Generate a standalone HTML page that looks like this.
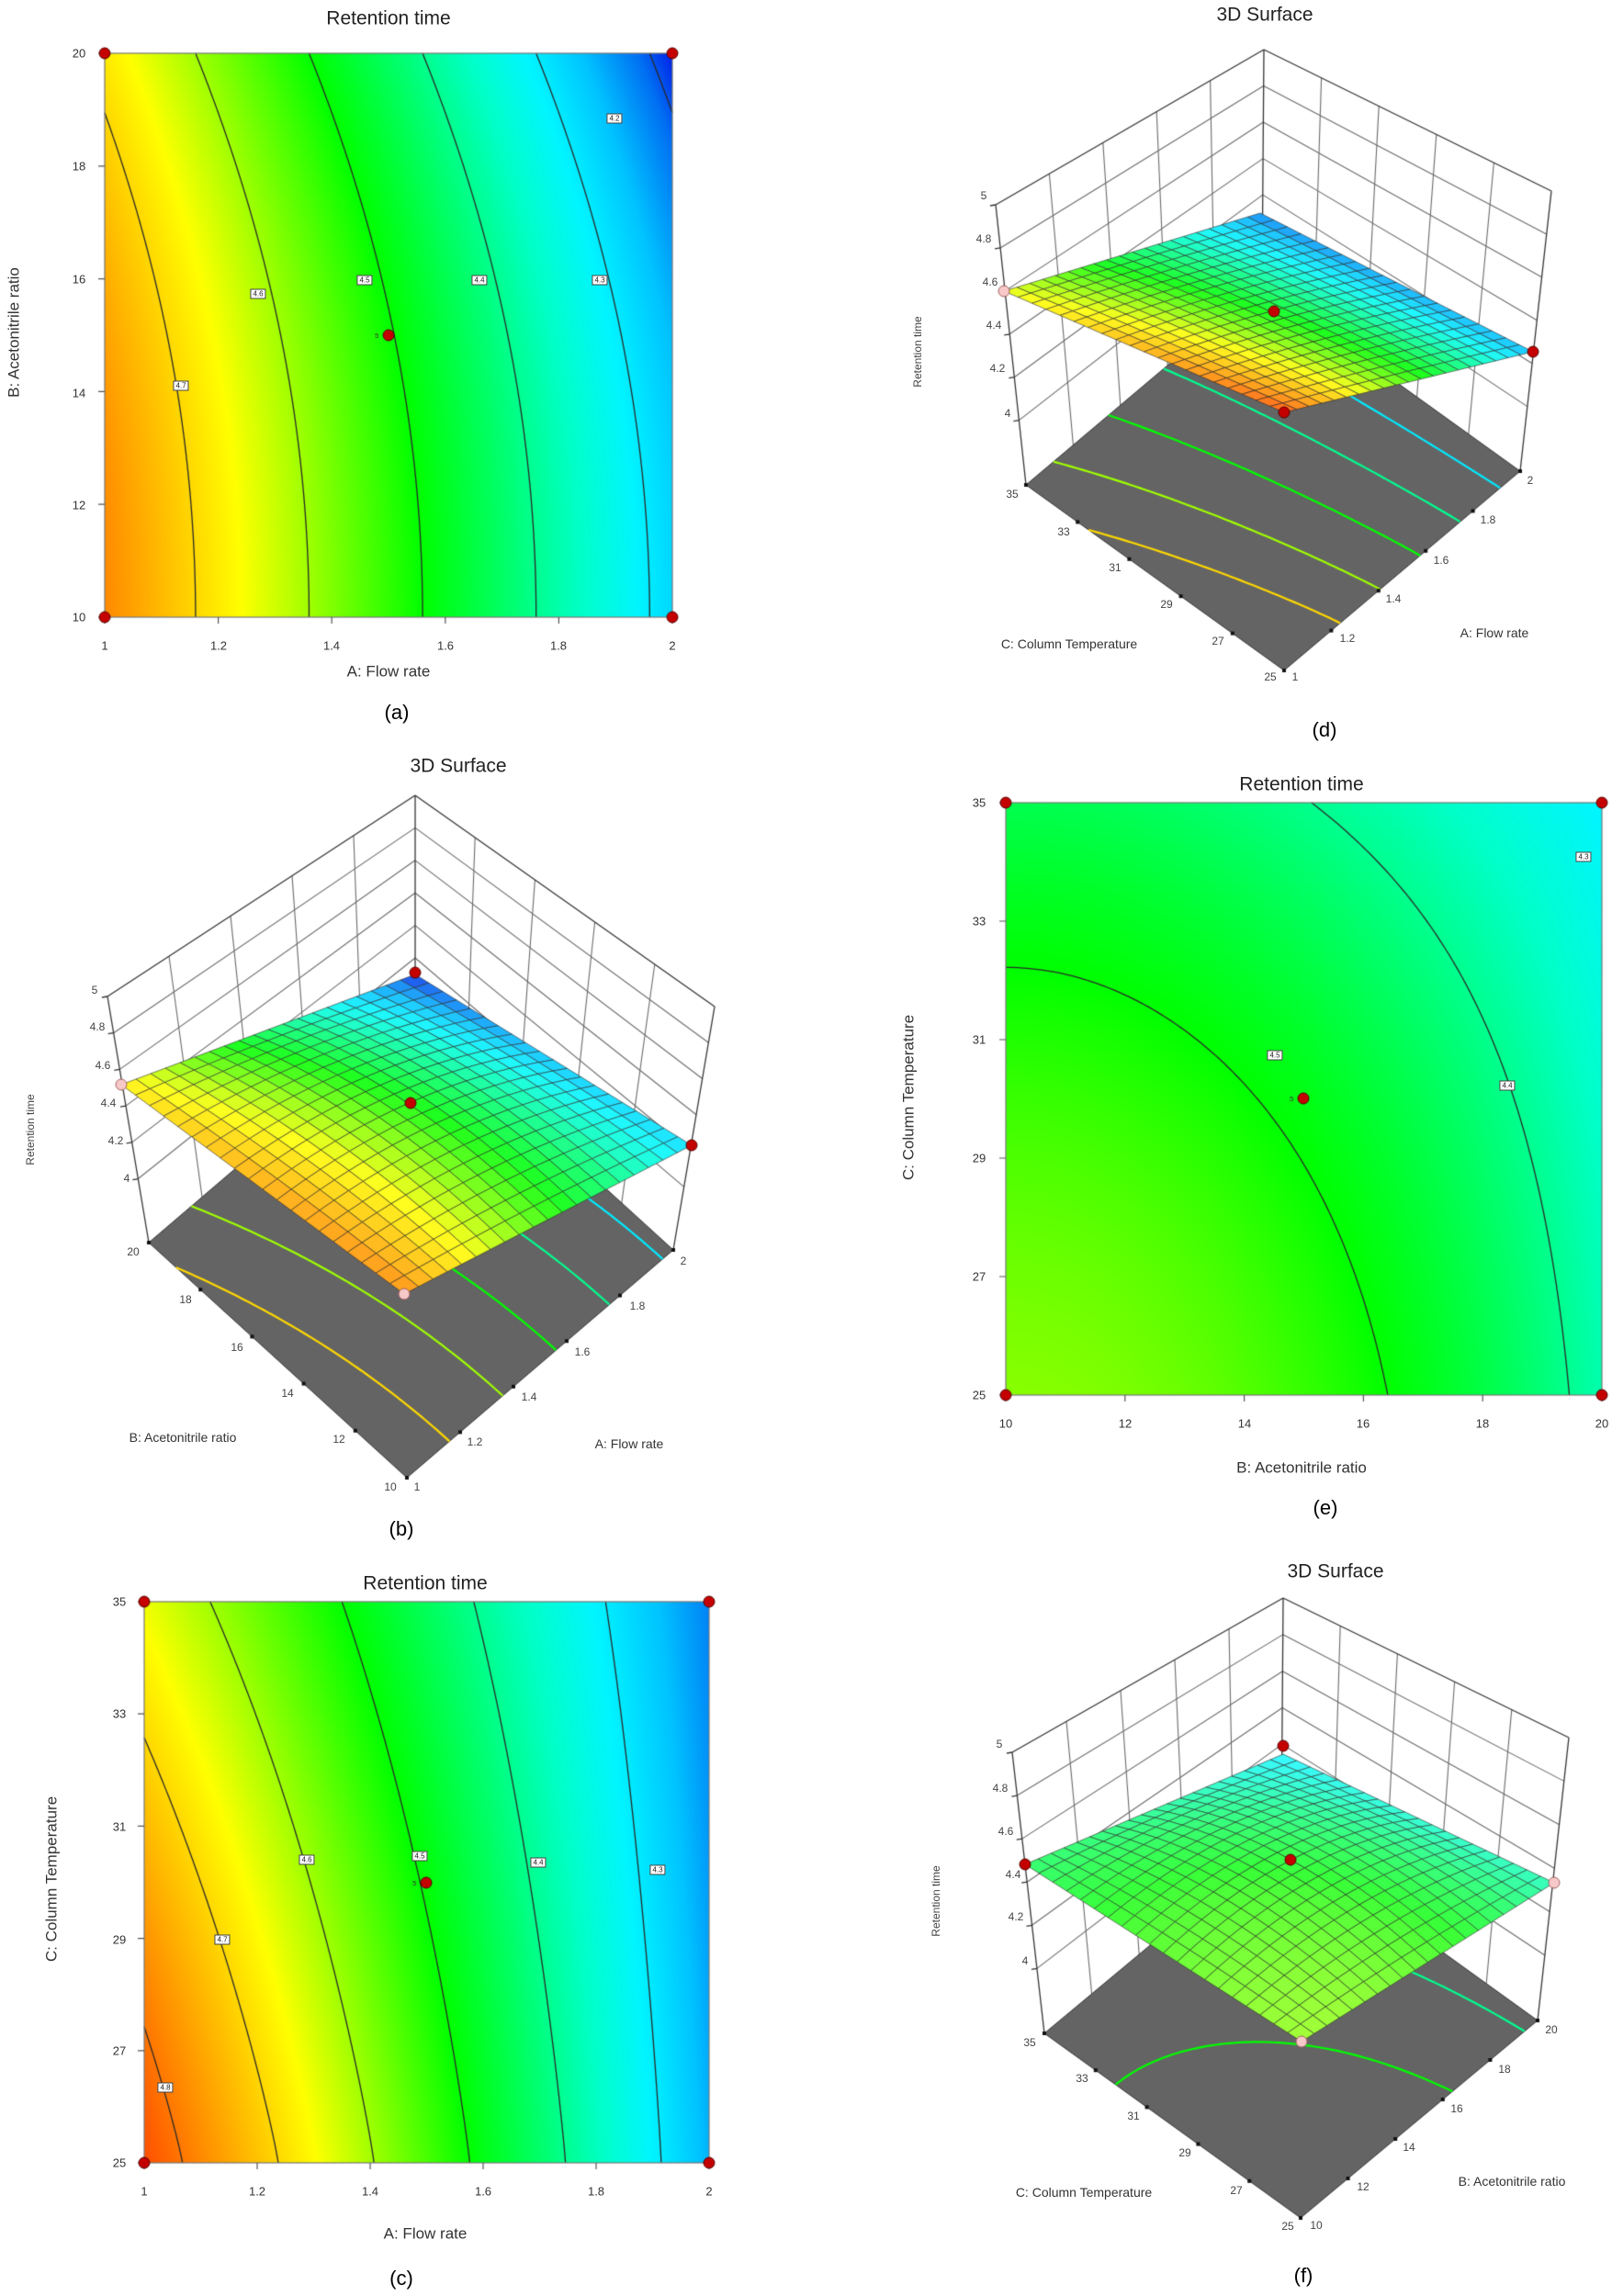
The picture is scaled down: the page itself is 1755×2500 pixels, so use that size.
<!DOCTYPE html>
<html><head><meta charset="utf-8">
<style>
html,body{margin:0;padding:0;background:#fff;}
#wrap{position:relative;width:1755px;height:2500px;overflow:hidden;background:#fff;font-family:"Liberation Sans",sans-serif;}
canvas{position:absolute;left:0;top:0;}
.t{position:absolute;transform:translate(-50%,-50%);white-space:nowrap;color:#333;line-height:1;}
.tk{font-size:13px;}
.tk3{font-size:12px;color:#444;}
.ti{font-size:21px;color:#222;}
.ax{font-size:17px;color:#333;}
.ax3{font-size:14px;color:#333;}
.lb{font-size:22px;color:#000;}
.rot{transform:translate(-50%,-50%) rotate(-90deg);}
.cl{position:absolute;transform:translate(-50%,-50%);background:#fff;border:1px solid #444;font-size:8px;padding:0 2px;line-height:9px;color:#222;}
</style></head><body>
<div id="wrap">
<canvas id="c" width="1755" height="2500"></canvas>

<!-- (a) -->
<div class="t ti" style="left:423px;top:20px">Retention time</div>
<div class="t tk" style="left:86px;top:58px">20</div>
<div class="t tk" style="left:86px;top:181px">18</div>
<div class="t tk" style="left:86px;top:304px">16</div>
<div class="t tk" style="left:86px;top:428px">14</div>
<div class="t tk" style="left:86px;top:550px">12</div>
<div class="t tk" style="left:86px;top:672px">10</div>
<div class="t tk" style="left:114px;top:703px">1</div>
<div class="t tk" style="left:238px;top:703px">1.2</div>
<div class="t tk" style="left:361px;top:703px">1.4</div>
<div class="t tk" style="left:485px;top:703px">1.6</div>
<div class="t tk" style="left:608px;top:703px">1.8</div>
<div class="t tk" style="left:732px;top:703px">2</div>
<div class="t ax" style="left:423px;top:731px">A: Flow rate</div>
<div class="t ax rot" style="left:15px;top:362px">B: Acetonitrile ratio</div>
<div class="t lb" style="left:432px;top:776px">(a)</div>
<div class="cl" style="left:669px;top:129px">4.2</div>
<div class="cl" style="left:653px;top:305px">4.3</div>
<div class="cl" style="left:522px;top:305px">4.4</div>
<div class="cl" style="left:397px;top:305px">4.5</div>
<div class="cl" style="left:281px;top:320px">4.6</div>
<div class="cl" style="left:197px;top:420px">4.7</div>

<!-- (d) -->
<div class="t ti" style="left:1377px;top:16px">3D Surface</div>
<div class="t tk3" style="left:1071px;top:213px">5</div>
<div class="t tk3" style="left:1071px;top:260px">4.8</div>
<div class="t tk3" style="left:1078px;top:307px">4.6</div>
<div class="t tk3" style="left:1082px;top:354px">4.4</div>
<div class="t tk3" style="left:1086px;top:401px">4.2</div>
<div class="t tk3" style="left:1097px;top:450px">4</div>
<div class="t tk3" style="left:1102px;top:538px">35</div>
<div class="t tk3" style="left:1158px;top:579px">33</div>
<div class="t tk3" style="left:1214px;top:618px">31</div>
<div class="t tk3" style="left:1270px;top:658px">29</div>
<div class="t tk3" style="left:1326px;top:698px">27</div>
<div class="t tk3" style="left:1383px;top:737px">25</div>
<div class="t tk3" style="left:1410px;top:737px">1</div>
<div class="t tk3" style="left:1467px;top:695px">1.2</div>
<div class="t tk3" style="left:1517px;top:652px">1.4</div>
<div class="t tk3" style="left:1569px;top:610px">1.6</div>
<div class="t tk3" style="left:1620px;top:566px">1.8</div>
<div class="t tk3" style="left:1666px;top:523px">2</div>
<div class="t ax3" style="left:1164px;top:701px">C: Column Temperature</div>
<div class="t ax3" style="left:1627px;top:689px">A: Flow rate</div>
<div class="t tk3 rot" style="left:999px;top:383px">Retention time</div>
<div class="t lb" style="left:1442px;top:795px">(d)</div>

<!-- (b) -->
<div class="t ti" style="left:499px;top:834px">3D Surface</div>
<div class="t tk3" style="left:103px;top:1078px">5</div>
<div class="t tk3" style="left:106px;top:1118px">4.8</div>
<div class="t tk3" style="left:112px;top:1160px">4.6</div>
<div class="t tk3" style="left:118px;top:1201px">4.4</div>
<div class="t tk3" style="left:126px;top:1242px">4.2</div>
<div class="t tk3" style="left:138px;top:1283px">4</div>
<div class="t tk3" style="left:145px;top:1363px">20</div>
<div class="t tk3" style="left:202px;top:1415px">18</div>
<div class="t tk3" style="left:258px;top:1467px">16</div>
<div class="t tk3" style="left:313px;top:1517px">14</div>
<div class="t tk3" style="left:369px;top:1567px">12</div>
<div class="t tk3" style="left:425px;top:1619px">10</div>
<div class="t tk3" style="left:454px;top:1619px">1</div>
<div class="t tk3" style="left:517px;top:1570px">1.2</div>
<div class="t tk3" style="left:576px;top:1521px">1.4</div>
<div class="t tk3" style="left:634px;top:1472px">1.6</div>
<div class="t tk3" style="left:694px;top:1422px">1.8</div>
<div class="t tk3" style="left:744px;top:1373px">2</div>
<div class="t ax3" style="left:199px;top:1565px">B: Acetonitrile ratio</div>
<div class="t ax3" style="left:685px;top:1572px">A: Flow rate</div>
<div class="t tk3 rot" style="left:33px;top:1230px">Retention time</div>
<div class="t lb" style="left:437px;top:1665px">(b)</div>

<!-- (e) -->
<div class="t ti" style="left:1417px;top:854px">Retention time</div>
<div class="t tk" style="left:1066px;top:874px">35</div>
<div class="t tk" style="left:1066px;top:1003px">33</div>
<div class="t tk" style="left:1066px;top:1132px">31</div>
<div class="t tk" style="left:1066px;top:1261px">29</div>
<div class="t tk" style="left:1066px;top:1390px">27</div>
<div class="t tk" style="left:1066px;top:1519px">25</div>
<div class="t tk" style="left:1095px;top:1550px">10</div>
<div class="t tk" style="left:1225px;top:1550px">12</div>
<div class="t tk" style="left:1355px;top:1550px">14</div>
<div class="t tk" style="left:1484px;top:1550px">16</div>
<div class="t tk" style="left:1614px;top:1550px">18</div>
<div class="t tk" style="left:1744px;top:1550px">20</div>
<div class="t ax" style="left:1417px;top:1598px">B: Acetonitrile ratio</div>
<div class="t ax rot" style="left:989px;top:1195px">C: Column Temperature</div>
<div class="t lb" style="left:1443px;top:1642px">(e)</div>
<div class="cl" style="left:1388px;top:1149px">4.5</div>
<div class="cl" style="left:1641px;top:1182px">4.4</div>
<div class="cl" style="left:1724px;top:933px">4.3</div>

<!-- (c) -->
<div class="t ti" style="left:463px;top:1724px">Retention time</div>
<div class="t tk" style="left:130px;top:1744px">35</div>
<div class="t tk" style="left:130px;top:1866px">33</div>
<div class="t tk" style="left:130px;top:1989px">31</div>
<div class="t tk" style="left:130px;top:2112px">29</div>
<div class="t tk" style="left:130px;top:2233px">27</div>
<div class="t tk" style="left:130px;top:2355px">25</div>
<div class="t tk" style="left:157px;top:2386px">1</div>
<div class="t tk" style="left:280px;top:2386px">1.2</div>
<div class="t tk" style="left:403px;top:2386px">1.4</div>
<div class="t tk" style="left:526px;top:2386px">1.6</div>
<div class="t tk" style="left:649px;top:2386px">1.8</div>
<div class="t tk" style="left:772px;top:2386px">2</div>
<div class="t ax" style="left:463px;top:2432px">A: Flow rate</div>
<div class="t ax rot" style="left:56px;top:2046px">C: Column Temperature</div>
<div class="t lb" style="left:437px;top:2481px">(c)</div>
<div class="cl" style="left:334px;top:2025px">4.6</div>
<div class="cl" style="left:457px;top:2021px">4.5</div>
<div class="cl" style="left:586px;top:2028px">4.4</div>
<div class="cl" style="left:716px;top:2036px">4.3</div>
<div class="cl" style="left:242px;top:2112px">4.7</div>
<div class="cl" style="left:180px;top:2273px">4.8</div>

<!-- (f) -->
<div class="t ti" style="left:1454px;top:1711px">3D Surface</div>
<div class="t tk3" style="left:1088px;top:1899px">5</div>
<div class="t tk3" style="left:1089px;top:1947px">4.8</div>
<div class="t tk3" style="left:1095px;top:1994px">4.6</div>
<div class="t tk3" style="left:1103px;top:2041px">4.4</div>
<div class="t tk3" style="left:1106px;top:2087px">4.2</div>
<div class="t tk3" style="left:1116px;top:2135px">4</div>
<div class="t tk3" style="left:1121px;top:2224px">35</div>
<div class="t tk3" style="left:1178px;top:2263px">33</div>
<div class="t tk3" style="left:1234px;top:2304px">31</div>
<div class="t tk3" style="left:1290px;top:2344px">29</div>
<div class="t tk3" style="left:1346px;top:2385px">27</div>
<div class="t tk3" style="left:1402px;top:2424px">25</div>
<div class="t tk3" style="left:1433px;top:2423px">10</div>
<div class="t tk3" style="left:1484px;top:2381px">12</div>
<div class="t tk3" style="left:1534px;top:2338px">14</div>
<div class="t tk3" style="left:1586px;top:2296px">16</div>
<div class="t tk3" style="left:1638px;top:2253px">18</div>
<div class="t tk3" style="left:1689px;top:2210px">20</div>
<div class="t ax3" style="left:1180px;top:2387px">C: Column Temperature</div>
<div class="t ax3" style="left:1646px;top:2375px">B: Acetonitrile ratio</div>
<div class="t tk3 rot" style="left:1019px;top:2070px">Retention time</div>
<div class="t lb" style="left:1419px;top:2478px">(f)</div>
</div>

<script>
const cv=document.getElementById('c'),ctx=cv.getContext('2d');
const stops=[[4.18,[0,30,230]],[4.21,[0,110,242]],[4.26,[0,195,255]],[4.31,[0,245,255]],[4.36,[0,255,200]],[4.5,[0,255,0]],[4.66,[255,255,0]],[4.86,[255,60,0]]];
function cmap(v){
  if(v<=stops[0][0])return stops[0][1].slice();
  for(let i=1;i<stops.length;i++){if(v<=stops[i][0]){const a=stops[i-1],b=stops[i],t=(v-a[0])/(b[0]-a[0]);return [0,1,2].map(k=>a[1][k]+(b[1][k]-a[1][k])*t);}}
  return stops[stops.length-1][1].slice();
}
function rgb(c,l){l=l||0;return 'rgb('+c.map(x=>Math.round(x+(255-x)*l)).join(',')+')';}
const fa=(A,B)=>{const s=(B-10)/10;return 4.78-0.5*(A-1)-0.1*s*s;};
const fc=(A,C)=>{const c=(C-25)/10;const a=A-1;return 4.84-0.59*a-0.19*Math.pow(c,1.1)*(1-0.85*a);};
const fe=(B,C)=>{const s=(B-10)/10,c=(C-25)/10;return 4.585-0.207*s*s-(0.06*c+0.08*c*c)*(1-0.5*s*s*s);};

function ms(fn,map,levels,colFn,lw,n){
  n=n||80;
  const g=[];for(let i=0;i<=n;i++){g[i]=[];for(let j=0;j<=n;j++)g[i][j]=fn(i/n,j/n);}
  ctx.lineWidth=lw;
  for(const L of levels){
    ctx.strokeStyle=colFn(L);ctx.beginPath();
    for(let i=0;i<n;i++)for(let j=0;j<n;j++){
      const c=[[i,j],[i+1,j],[i+1,j+1],[i,j+1]];const pts=[];
      for(let k=0;k<4;k++){const p=c[k],q=c[(k+1)%4];const a=g[p[0]][p[1]]-L,b=g[q[0]][q[1]]-L;
        if((a<0)!==(b<0)){const t=a/(a-b);pts.push([(p[0]+(q[0]-p[0])*t)/n,(p[1]+(q[1]-p[1])*t)/n]);}}
      for(let k=0;k+1<pts.length;k+=2){const A=map(pts[k][0],pts[k][1]),B=map(pts[k+1][0],pts[k+1][1]);ctx.moveTo(A[0],A[1]);ctx.lineTo(B[0],B[1]);}
    }
    ctx.stroke();
  }
}
function dot(x,y,pink){ctx.beginPath();ctx.arc(x,y,6,0,Math.PI*2);ctx.fillStyle=pink?'#f7c8c8':'#c40000';ctx.fill();ctx.lineWidth=1;ctx.strokeStyle=pink?'#a06060':'#500';ctx.stroke();}

function plot2D(cfg){
  const {l,r,t,b,fn,levels}=cfg;const w=r-l,h=b-t;
  const img=ctx.createImageData(w,h);
  for(let y=0;y<h;y++)for(let x=0;x<w;x++){const c=cmap(fn(x/w,1-y/h));const k=(y*w+x)*4;img.data[k]=c[0];img.data[k+1]=c[1];img.data[k+2]=c[2];img.data[k+3]=255;}
  ctx.putImageData(img,l,t);
  ms(fn,(u,v)=>[l+u*w,b-v*h],levels,()=>'#2a2a2a',1.3,100);
  ctx.strokeStyle='#777';ctx.lineWidth=1.2;ctx.strokeRect(l,t,w,h);
  ctx.beginPath();ctx.strokeStyle='#555';
  for(let i=0;i<=5;i++){const y=t+h*i/5;ctx.moveTo(l-7,y);ctx.lineTo(l,y);const x=l+w*i/5;ctx.moveTo(x,b);ctx.lineTo(x,b+7);}
  ctx.stroke();
  dot(l,t);dot(r,t);dot(l,b);dot(r,b);dot(cfg.cx,cfg.cy);
  ctx.fillStyle='#333';ctx.font='8px "Liberation Sans",sans-serif';ctx.fillText('5',cfg.cx-15,cfg.cy+3);
}
plot2D({l:114,r:732,t:58,b:672,fn:(u,v)=>fa(1+u,10+10*v),levels:[4.2,4.3,4.4,4.5,4.6,4.7],cx:423,cy:365});
plot2D({l:157,r:772,t:1744,b:2355,fn:(u,v)=>fc(1+u,25+10*v),levels:[4.3,4.4,4.5,4.6,4.7,4.8],cx:464,cy:2050});
plot2D({l:1095,r:1744,t:874,b:1519,fn:(u,v)=>fe(10+10*u,25+10*v),levels:[4.3,4.4,4.5],cx:1419,cy:1196});

function bil(F,R,L,B,u,v){return [0,1].map(k=>F[k]*(1-u)*(1-v)+R[k]*u*(1-v)+L[k]*(1-u)*v+B[k]*u*v);}
function plot3D(c){
  const TF=[c.TL[0]+c.TR[0]-c.TB[0],c.TL[1]+c.TR[1]-c.TB[1]];
  const P=(u,v,z)=>{const w=(z-c.zf)/(5-c.zf);const f=bil(c.F,c.R,c.L,c.Bk,u,v),t=bil(TF,c.TR,c.TL,c.TB,u,v);return [f[0]+(t[0]-f[0])*w,f[1]+(t[1]-f[1])*w];};
  const line=(a,b)=>{ctx.moveTo(a[0],a[1]);ctx.lineTo(b[0],b[1]);};
  ctx.beginPath();ctx.strokeStyle='#6a6a6a';ctx.lineWidth=1.1;
  for(let i=1;i<5;i++){line(P(i/5,1,c.zf),P(i/5,1,5));line(P(1,i/5,c.zf),P(1,i/5,5));}
  for(const z of [4,4.2,4.4,4.6,4.8]){line(P(0,1,z),P(1,1,z));line(P(1,1,z),P(1,0,z));}
  ctx.stroke();
  ctx.beginPath();ctx.strokeStyle='#333';ctx.lineWidth=1.3;
  line(P(0,1,5),P(1,1,5));line(P(1,1,5),P(1,0,5));
  line(P(0,1,c.zf),P(0,1,5));line(P(1,0,c.zf),P(1,0,5));line(P(1,1,c.zf),P(1,1,5));
  for(const z of [4,4.2,4.4,4.6,4.8,5]){const p=P(0,1,z);ctx.moveTo(p[0]-6,p[1]+1);ctx.lineTo(p[0],p[1]);}
  ctx.stroke();
  ctx.beginPath();ctx.moveTo(c.F[0],c.F[1]);ctx.lineTo(c.R[0],c.R[1]);ctx.lineTo(c.Bk[0],c.Bk[1]);ctx.lineTo(c.L[0],c.L[1]);ctx.closePath();
  ctx.fillStyle='#646464';ctx.fill();ctx.strokeStyle='#333';ctx.lineWidth=1;ctx.stroke();
  ms(c.fn,(u,v)=>bil(c.F,c.R,c.L,c.Bk,u,v),c.levels,L=>rgb(cmap(L)),2.2,60);
  ctx.fillStyle='#111';
  for(let i=0;i<=5;i++){let p=bil(c.F,c.R,c.L,c.Bk,i/5,0);ctx.fillRect(p[0]-2,p[1]-2,4,4);p=bil(c.F,c.R,c.L,c.Bk,0,i/5);ctx.fillRect(p[0]-2,p[1]-2,4,4);}
  const S=c.S,N=20;
  const SP=(u,v)=>{const p=bil(S.F,S.R,S.L,S.B,u,v);p[1]+=c.bump*16*u*(1-u)*v*(1-v);return p;};
  const cells=[];for(let i=0;i<N;i++)for(let j=0;j<N;j++)cells.push([i,j]);
  cells.sort((a,b)=>(b[0]+b[1])-(a[0]+a[1]));
  ctx.lineWidth=0.8;ctx.strokeStyle='rgba(40,40,40,0.75)';
  for(const [i,j] of cells){
    const u0=i/N,u1=(i+1)/N,v0=j/N,v1=(j+1)/N;
    const a=SP(u0,v0),b=SP(u1,v0),d=SP(u1,v1),e=SP(u0,v1);
    ctx.beginPath();ctx.moveTo(a[0],a[1]);ctx.lineTo(b[0],b[1]);ctx.lineTo(d[0],d[1]);ctx.lineTo(e[0],e[1]);ctx.closePath();
    ctx.fillStyle=rgb(cmap(c.fn((u0+u1)/2,(v0+v1)/2)),c.light);ctx.fill();ctx.stroke();
  }
  for(const p of c.pts)dot(p[0],p[1],p[2]);
}
plot3D({F:[443,1609],R:[733,1361],L:[162,1353],Bk:[452,1105],TL:[117,1085],TR:[778,1096],TB:[452,866],zf:3.65,
  S:{F:[440,1409],R:[753,1247],L:[132,1181],B:[452,1061]},bump:-23,light:0.12,
  fn:(u,v)=>fa(1+u,10+10*v),levels:[4.3,4.4,4.5,4.6,4.7],
  pts:[[452,1059],[447,1201],[753,1247],[132,1181,1],[440,1409,1]]});
plot3D({F:[1398,730],R:[1655,513],L:[1117,528],Bk:[1374,311],TL:[1084,223],TR:[1689,208],TB:[1376,54],zf:3.7,
  S:{F:[1398,449],R:[1669,383],L:[1093,317],B:[1372,232]},bump:-6,light:0.12,
  fn:(u,v)=>fc(1+u,25+10*v),levels:[4.3,4.4,4.5,4.6,4.7],
  pts:[[1093,317,1],[1387,339],[1669,383],[1398,449]]});
plot3D({F:[1416,2415],R:[1674,2200],L:[1137,2214],Bk:[1395,1999],TL:[1102,1908],TR:[1708,1892],TB:[1397,1740],zf:3.7,
  S:{F:[1417,2223],R:[1692,2050],L:[1116,2030],B:[1397,1910]},bump:-28,light:0.22,
  fn:(u,v)=>fe(10+10*u,25+10*v),levels:[4.3,4.4,4.5],
  pts:[[1116,2030],[1397,1901],[1405,2025],[1692,2050,1],[1417,2223,1]]});
</script>
</body></html>
